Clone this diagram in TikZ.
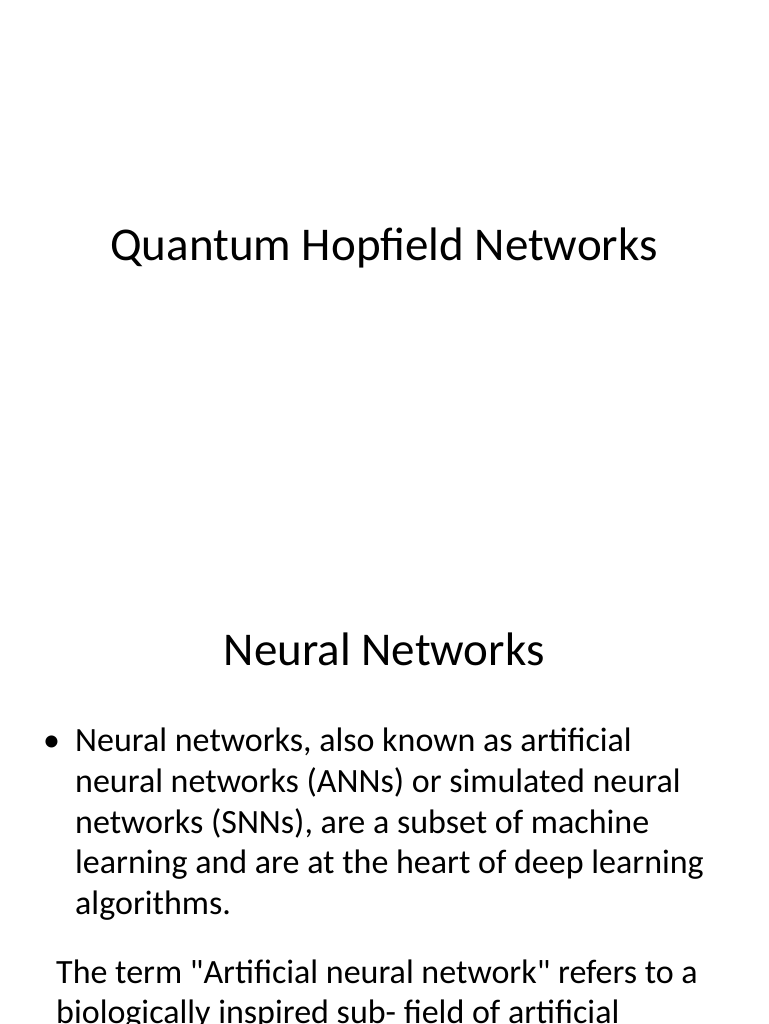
\documentclass[tikz,border=0pt]{standalone}
\usepackage{fontspec}
\setmainfont{Carlito}
\newfontfamily\plainq[Ligatures=TeXOff]{Carlito}
\begin{document}
\begin{tikzpicture}[x=1pt,y=1pt,
  title/.style={font=\fontsize{47}{56}\selectfont, anchor=base},
  body/.style={font=\fontsize{34}{41}\selectfont, anchor=base west, inner sep=0}]
\useasboundingbox (0,0) rectangle (768,-1024);
\clip (0,0) rectangle (768,-1024);
\node[title] (t1) at (384,-260) {Quantum Hopfield Networks};
\node[title] (t2) at (384,-665) {Neural Networks};
\node[body] (b) at (43,-751) {\textbullet};
\node[body] (l1) at (75,-751) {Neural networks, also known as artificial};
\node[body] (l2) at (75,-792) {neural networks (ANNs) or simulated neural};
\node[body] (l3) at (75,-833) {networks (SNNs), are a subset of machine};
\node[body] (l4) at (75,-873) {learning and are at the heart of deep learning};
\node[body] (l5) at (75,-914) {algorithms.};
\node[body] (p1) at (56,-983) {The term {\plainq "}Artificial neural network{\plainq "} refers to a};
\node[body] (p2) at (56,-1023) {biologically inspired sub- field of artificial};
\end{tikzpicture}
\end{document}
